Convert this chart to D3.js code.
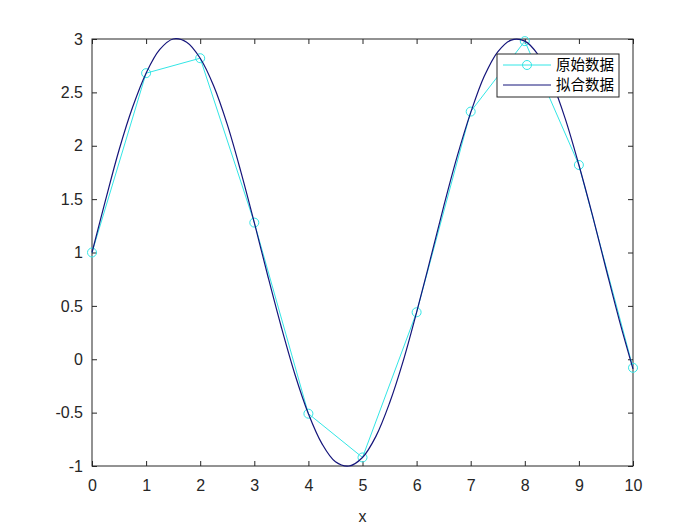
<!DOCTYPE html>
<html>
<head>
<meta charset="utf-8">
<script src="https://cdn.jsdelivr.net/npm/d3@7"></script>
<style>
  body { margin: 0; background: #fff; }
  svg { display: block; }
  text { font-family: "Liberation Sans", Arial, sans-serif; }
</style>
</head>
<body>
<div id="chart"></div>
<script>
// raw samples (circles)
const rawX = [0, 1, 2, 3, 4, 5, 6, 7, 8, 9, 10];
const rawY = [1.00, 2.68, 2.82, 1.28, -0.51, -0.92, 0.44, 2.32, 2.98, 1.82, -0.08];

// fitted curve, read every 0.25 along x
const fitX = [0, 0.25, 0.5, 0.75, 1, 1.25, 1.5, 1.75, 2, 2.25, 2.5, 2.75, 3, 3.25, 3.5, 3.75,
  4, 4.25, 4.5, 4.75, 5, 5.25, 5.5, 5.75, 6, 6.25, 6.5, 6.75, 7, 7.25, 7.5, 7.75,
  8, 8.25, 8.5, 8.75, 9, 9.25, 9.5, 9.75, 10];
const fitY = [1.00, 1.49, 1.96, 2.36, 2.68, 2.90, 3.00, 2.97, 2.82, 2.56, 2.20, 1.76, 1.28, 0.78, 0.30, -0.14,
  -0.51, -0.79, -0.96, -1.00, -0.92, -0.72, -0.41, -0.02, 0.44, 0.93, 1.43, 1.90, 2.31, 2.65, 2.88, 2.99,
  2.98, 2.85, 2.60, 2.25, 1.82, 1.35, 0.85, 0.36, -0.09];

const xTicks = [0, 1, 2, 3, 4, 5, 6, 7, 8, 9, 10];
const yTicks = [-1, -0.5, 0, 0.5, 1, 1.5, 2, 2.5, 3];
const legendNames = ["原始数据", "拟合数据"];

const W = 700, H = 525;
const m = {left: 92, right: 67, top: 39, bottom: 59};
const iw = W - m.left - m.right, ih = H - m.top - m.bottom;

const svg = d3.select("#chart").append("svg")
    .attr("width", W).attr("height", H);

const x = d3.scaleLinear().domain([0, 10]).range([0, iw]);
const y = d3.scaleLinear().domain([-1, 3]).range([ih, 0]);

const g = svg.append("g").attr("transform", `translate(${m.left},${m.top})`);

const fmt = d => String(d);
const tk = 5;

// axes with inward ticks, on all four sides
const styleAxis = sel => {
    sel.select(".domain").remove();
    sel.selectAll("line").attr("stroke", "#262626");
    sel.selectAll("text").attr("fill", "#262626").style("font-size", "16px");
};
g.append("g").attr("transform", `translate(0,${ih})`)
    .call(d3.axisBottom(x).tickValues(xTicks).tickFormat(fmt).tickSizeInner(-tk).tickPadding(14))
    .call(styleAxis);
g.append("g")
    .call(d3.axisLeft(y).tickValues(yTicks).tickFormat(fmt).tickSizeInner(-tk).tickPadding(9))
    .call(styleAxis);
g.append("g")
    .call(d3.axisTop(x).tickValues(xTicks).tickFormat("").tickSizeInner(-tk))
    .call(styleAxis);
g.append("g").attr("transform", `translate(${iw},0)`)
    .call(d3.axisRight(y).tickValues(yTicks).tickFormat("").tickSizeInner(-tk))
    .call(styleAxis);

g.append("rect")
    .attr("width", iw).attr("height", ih)
    .attr("fill", "none").attr("stroke", "#262626").attr("stroke-width", 1);

const cyan = "#33e6e6", navy = "#14147a";

// raw data line + circles
const raw = rawX.map((v, i) => ({x: v, y: rawY[i]}));
g.append("path").datum(raw)
    .attr("fill", "none").attr("stroke", cyan).attr("stroke-width", 1)
    .attr("d", d3.line().x(d => x(d.x)).y(d => y(d.y)));
g.selectAll("circle.raw").data(raw).join("circle")
    .attr("class", "raw")
    .attr("cx", d => x(d.x)).attr("cy", d => y(d.y)).attr("r", 4.5)
    .attr("fill", "none").attr("stroke", cyan).attr("stroke-width", 1);

// fitted curve
const fit = fitX.map((v, i) => ({x: v, y: fitY[i]}));
g.append("path").datum(fit)
    .attr("fill", "none").attr("stroke", navy).attr("stroke-width", 1.2)
    .attr("d", d3.line().curve(d3.curveCatmullRom).x(d => x(d.x)).y(d => y(d.y)));

// legend
const lg = svg.append("g").attr("transform", "translate(497,54)");
lg.append("rect").attr("width", 122).attr("height", 43)
    .attr("fill", "#fff").attr("stroke", "#262626").attr("stroke-width", 1);
legendNames.forEach((name, i) => {
    const cy = 11 + i * 20;
    const col = i === 0 ? cyan : navy;
    lg.append("line").attr("x1", 6).attr("x2", 54).attr("y1", cy).attr("y2", cy)
        .attr("stroke", col).attr("stroke-width", 1);
    if (i === 0) {
        lg.append("circle").attr("cx", 30).attr("cy", cy).attr("r", 4.5)
            .attr("fill", "none").attr("stroke", col);
    }
    lg.append("text").attr("x", 59).attr("y", cy + 5)
        .style("font-family", "'Noto Sans CJK SC', sans-serif")
        .style("font-size", "14.5px").attr("fill", "#000").text(name);
});

// x label
svg.append("text")
    .attr("x", m.left + iw / 2).attr("y", 522)
    .attr("text-anchor", "middle")
    .style("font-size", "16px").attr("fill", "#262626").text("x");
</script>
</body>
</html>
